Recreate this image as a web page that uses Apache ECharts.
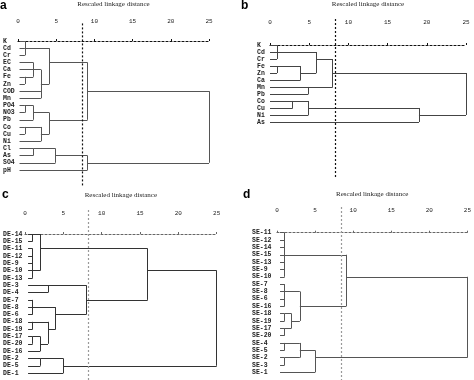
<!DOCTYPE html>
<html><head><meta charset="utf-8">
<script src="https://cdn.jsdelivr.net/npm/echarts@6/dist/echarts.min.js"></script>
<style>html,body{margin:0;padding:0;background:#fff}#c{width:474px;height:380px}</style>
</head><body><div id="c"></div>
<script>
// ---- data ----
const tickValues = [0, 5, 10, 15, 20, 25];
const axisTitle = "Rescaled linkage distance";
const panelLetters = ["a", "b", "c", "d"];
const cutoffs = [8.4, 8.3, 8.3, 8.5];

const leavesA = ["K","Cd","Cr","EC","Ca","Fe","Zn","COD","Mn","PO4","NO3","Pb","Co","Cu","Ni","Cl","As","SO4","pH"];
const treeA = [25,
  [9.1,
    [4.1, [0.9,"K","Cd","Cr"], [3.0, [2.0,"EC","Ca",[0.9,"Fe","Zn"]], "COD", "Mn"]],
    [4.1, [2.0,[0.9,"PO4","NO3"],"Pb"], [3.0,[0.9,"Co","Cu"],"Ni"]]
  ],
  [9.1, [4.9,[2.0,"Cl","As"],"SO4"], "pH"]
];

const leavesB = ["K","Cd","Cr","Fe","Zn","Ca","Mn","Pb","Co","Cu","Ni","As"];
const treeB = [25,
  [8.0, [5.9,[0.9,"K","Cd","Cr"],[3.9,[0.9,"Fe","Zn"],"Ca"]], [4.9,"Mn","Pb"]],
  [19.0, [4.9,[2.9,"Co","Cu"],"Ni"], "As"]
];

const leavesC = ["DE-14","DE-15","DE-11","DE-12","DE-9","DE-10","DE-13","DE-3","DE-4","DE-7","DE-8","DE-6","DE-18","DE-19","DE-17","DE-20","DE-16","DE-2","DE-5","DE-1"];
const treeC = [25,
  [16.0,
    [2.0,[1.0,"DE-14","DE-15"],[1.0,[1.0,[1.0,"DE-11","DE-12","DE-9"],"DE-10"],"DE-13"]],
    [8.0,[3.0,"DE-3","DE-4"],[4.0,[1.0,"DE-7","DE-8","DE-6"],[3.0,[1.0,"DE-18","DE-19"],[2.0,[1.0,"DE-17","DE-20"],"DE-16"]]]]
  ],
  [5.0,[2.0,"DE-2","DE-5"],"DE-1"]
];

const leavesD = ["SE-11","SE-12","SE-14","SE-15","SE-13","SE-9","SE-10","SE-7","SE-8","SE-6","SE-16","SE-18","SE-19","SE-17","SE-20","SE-4","SE-5","SE-2","SE-3","SE-1"];
const treeD = [25,
  [9.1,
    [1.0,"SE-11","SE-12","SE-14","SE-15","SE-13","SE-9","SE-10"],
    [3.0,[1.0,"SE-7","SE-8","SE-6","SE-16"],[1.9,[1.0,"SE-18","SE-19"],[1.0,"SE-17","SE-20"]]]
  ],
  [5.0,[3.0,[1.0,"SE-4","SE-5"],[1.0,"SE-2","SE-3"]],"SE-1"]
];

// ---- layout / style ----
const panels = [
  {leaves: leavesA, tree: treeA, left: 16, width: 193, top: 38, rowStep: 7.33, axisY: 25, labelMargin: 15, tickMargin: 4, leafStart: 0.2,
   letter: {x: 0, y: 0}, treeColor: '#555', dashColor: '#111', axisColor: '#111', dashTop: 20, dashBottom: 187},
  {leaves: leavesB, tree: treeB, left: 270, width: 196, top: 42, rowStep: 7.27, axisY: 25, labelMargin: 13, tickMargin: 3, leafStart: 0,
   letter: {x: 241, y: 0}, treeColor: '#444', dashColor: '#111', axisColor: '#111', dashTop: 15, dashBottom: 180},
  {leaves: leavesC, tree: treeC, left: 22.7, width: 194, top: 234, rowStep: 7.32, axisY: 219, labelMargin: 22, tickMargin: 3, leafStart: 0.4,
   letter: {x: 2, y: 189}, treeColor: '#333', dashColor: '#999', axisColor: '#666', dashTop: 210, dashBottom: 380},
  {leaves: leavesD, tree: treeD, left: 277, width: 193.3, top: 232.7, rowStep: 7.35, axisY: 218, labelMargin: 25, tickMargin: 5, leafStart: 0.4,
   letter: {x: 243, y: 189}, treeColor: '#555', dashColor: '#999', axisColor: '#666', dashTop: 207, dashBottom: 380}
];

// SPSS-style layout: a cluster's line sits on the row at floor of the middle of its children's span
function layoutTree(tree, leaves, leafStart) {
  const segs = [];
  function walk(node) {
    if (typeof node === 'string') return {x: leafStart, y: leaves.indexOf(node)};
    const h = node[0];
    const kids = node.slice(1).map(walk);
    kids.forEach(k => segs.push({coords: [[k.x, k.y], [h, k.y]]}));
    const ys = kids.map(k => k.y);
    const y0 = Math.min(...ys), y1 = Math.max(...ys);
    segs.push({coords: [[h, y0], [h, y1]]});
    return {x: h, y: Math.floor((y0 + y1) / 2)};
  }
  walk(tree);
  return segs;
}

const grid = [], xAxis = [], yAxis = [], series = [], title = [];
panels.forEach((p, i) => {
  const n = p.leaves.length;
  grid.push({left: p.left, top: p.top, width: p.width, height: p.rowStep * (n - 1)});
  xAxis.push({
    type: 'value', gridIndex: i, position: 'top', min: tickValues[0], max: tickValues[tickValues.length - 1], interval: 5,
    offset: p.top - p.axisY,
    name: axisTitle, nameLocation: 'middle', nameGap: 20,
    nameTextStyle: {fontFamily: 'Liberation Serif', fontSize: 7, color: '#222'},
    axisLine: {show: true, lineStyle: {color: p.axisColor, width: 1.2, type: [2, 2]}},
    axisTick: {show: true, length: 2, lineStyle: {color: p.axisColor}},
    axisLabel: {fontFamily: 'Liberation Mono', fontSize: 6, color: '#222', margin: p.tickMargin},
    splitLine: {show: false}
  });
  yAxis.push({
    type: 'value', gridIndex: i, inverse: true, min: 0, max: n - 1, interval: 1,
    axisLine: {show: false}, axisTick: {show: false}, splitLine: {show: false},
    axisLabel: {fontFamily: 'Liberation Mono', fontSize: 6.5, fontWeight: 'bold', color: '#222', align: 'left', margin: p.labelMargin,
      formatter: v => p.leaves[v] || ''}
  });
  series.push({
    type: 'lines', coordinateSystem: 'cartesian2d', xAxisIndex: i, yAxisIndex: i, clip: false, silent: true,
    lineStyle: {color: p.treeColor, width: 1, opacity: 1},
    data: layoutTree(p.tree, p.leaves, p.leafStart)
  });
  const yTop = (p.dashTop - p.top) / p.rowStep, yBot = (p.dashBottom - p.top) / p.rowStep;
  series.push({
    type: 'lines', coordinateSystem: 'cartesian2d', xAxisIndex: i, yAxisIndex: i, clip: false, silent: true,
    lineStyle: {color: p.dashColor, width: 1.2, type: [2, 2], opacity: 1},
    data: [{coords: [[cutoffs[i], yTop], [cutoffs[i], yBot]]}]
  });
  title.push({text: panelLetters[i], left: p.letter.x, top: p.letter.y, padding: 0,
    textStyle: {fontFamily: 'Liberation Sans', fontSize: 12, fontWeight: 'bold', color: '#000'}});
});

const chart = echarts.init(document.getElementById('c'), null, {renderer: 'canvas'});
chart.setOption({animation: false, backgroundColor: '#fff', title, grid, xAxis, yAxis, series});
</script>
</body></html>
